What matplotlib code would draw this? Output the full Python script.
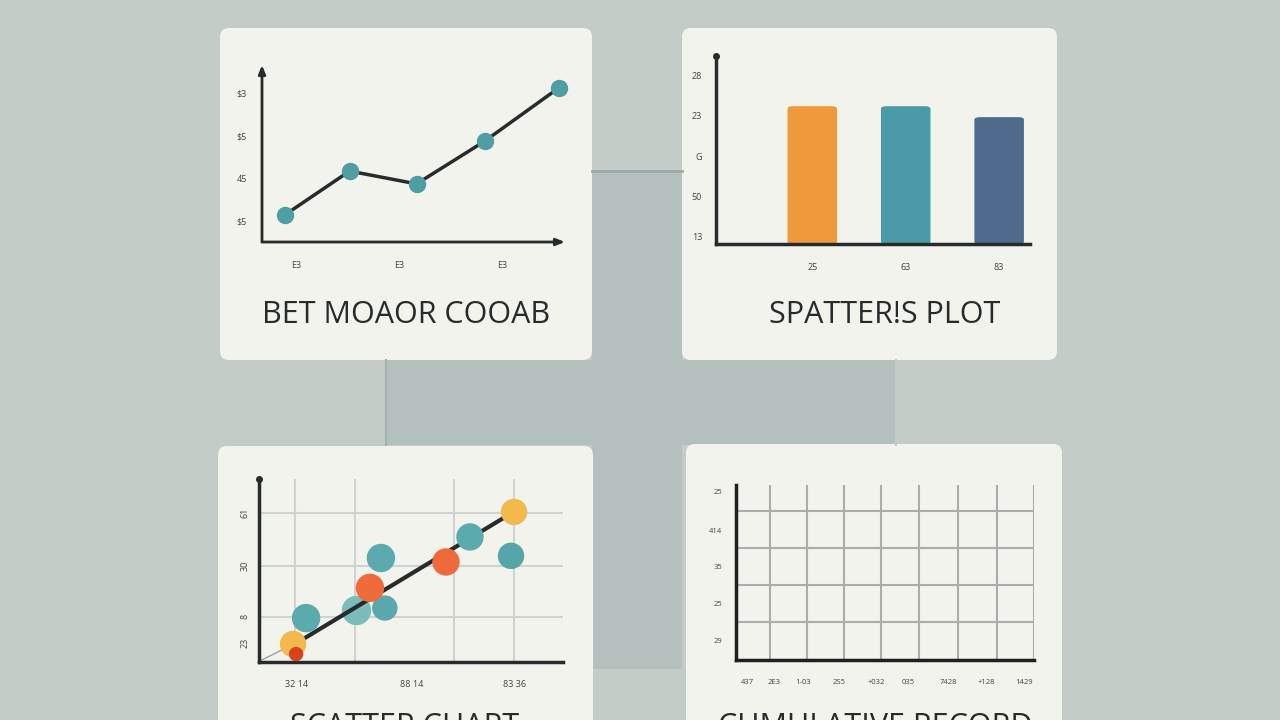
import numpy as np
import matplotlib
matplotlib.use('Agg')
import matplotlib.pyplot as plt
from matplotlib.patches import FancyBboxPatch, Rectangle

plt.rcParams['font.family'] = ['Open Sans', 'DejaVu Sans']

W, H = 1280, 720
ink = '#262b2c'
tick_col = '#3f4444'

# ---- data ----
# top left: line chart
line_x = [0.89, 1.52, 2.17, 2.83, 3.55]
line_y = [11.4, 21.7, 18.7, 28.7, 41.2]
line_yticks = [10, 20, 30, 40]
line_yticklabels = ['$5', '45', '$5', '$3']
line_xticks = [1, 2, 3]
line_xticklabels = ['E3', 'E3', 'E3']

# top right: bars
bar_names = ['25', '63', '83']
bar_values = [32.3, 32.3, 29.6]
bar_colors = ['#f0993a', '#4b9aa8', '#4e6b8e']
bar_yticks = [0, 10, 20, 30, 40]
bar_yticklabels = ['13', '50', 'G', '23', '28']

# bottom left: scatter with trend line
sc_x = [31.9, 15.5, 11.2, 12.2, 41.4, 36.5, 40.1, 61.5, 69.4, 82.9, 83.9]
sc_y = [17.0, 14.4, 5.9, 2.6, 17.7, 24.3, 34.1, 32.8, 41.0, 34.8, 49.2]
sc_d = [28, 27, 25, 13, 24, 27, 27, 26, 26, 25, 25]
sc_c = ['#7bbcbb', '#5aaaae', '#f2b94c', '#d8401f', '#5aa8ae', '#ef6c3a',
        '#5aaaae', '#ef6a3b', '#5aaaae', '#55a5aa', '#f2b94c']
trend_x = [13.5, 80.9]
trend_y = [6.9, 47.5]
sc_gx = [11.8, 31.6, 64.1, 83.9]
sc_gy = [14.8, 31.5, 48.9]
sc_yticks = [6.2, 14.8, 31.5, 48.9]
sc_yticklabels = ['23', '8', '30', '61']
sc_xticks = [12.5, 50.3, 84.2]
sc_xticklabels = ['32 14', '88 14', '83 36']

# bottom right: empty grid
gr_gx = [0.9, 1.9, 2.9, 3.9, 4.9, 5.95, 7.0, 8.0]
gr_gy = [1.1, 2.15, 3.2, 4.25]
gr_yticks = [0.57, 1.6, 2.66, 3.71, 4.8]
gr_yticklabels = ['29', '25', '35', '414', '25']
gr_xticks = [0.32, 1.02, 1.8, 2.77, 3.76, 4.62, 5.69, 6.71, 7.73]
gr_xticklabels = ['437', '2E3', '1-03', '2S5', '+032', '035', '7428', '+128', '1429']

fig = plt.figure(figsize=(12.8, 7.2), dpi=100)
fig.patch.set_facecolor('#c4ccc8')

# background layer in pixel coordinates
bg = fig.add_axes([0, 0, 1, 1])
bg.set_xlim(0, W)
bg.set_ylim(H, 0)
bg.axis('off')
bg.add_patch(Rectangle((592, 170), 90, 499, color='#b4c0bd', lw=0))
bg.add_patch(Rectangle((385, 360), 512, 85, color='#b4c0bd', lw=0))
bg.plot([592, 682], [171, 171], color='#9eaaa8', lw=2)
bg.plot([386, 386], [360, 445], color='#a7b3b0', lw=1.5)
bg.plot([896, 896], [360, 445], color='#c2cbc8', lw=1.5)

panels = [(220, 28, 592, 360), (682, 28, 1057, 360),
          (218, 446, 593, 740), (686, 444, 1062, 740)]
for l, t, r, b in panels:
    bg.add_patch(FancyBboxPatch((l, t), r - l, b - t,
                                boxstyle='round,pad=0,rounding_size=9',
                                fc='#f3f3ee', ec='none'))

bg.text(406, 315, 'BET MOAOR COOAB', ha='center', va='center', fontsize=22, color=ink)
bg.text(885, 315, 'SPATTER!S PLOT', ha='center', va='center', fontsize=22, color=ink)
# the bottom titles run off the lower edge, as in the picture
bg.text(405, 712, 'SCATTER CHART', ha='center', va='top', fontsize=22, color=ink)
bg.text(875, 712, 'CUMULATIVE RECORD', ha='center', va='top', fontsize=22, color=ink)


def px_axes(l, t, r, b):
    ax = fig.add_axes([l / W, 1 - b / H, (r - l) / W, (b - t) / H])
    ax.set_facecolor('none')
    for s in ax.spines.values():
        s.set_visible(False)
    ax.tick_params(length=0, labelsize=6.5, labelcolor=tick_col)
    return ax


def rounded_bars(ax, xs, tops, bottom, width, colors):
    # bars with softly rounded corners, drawn as patches in data space
    for x, top, c in zip(xs, tops, colors):
        ax.add_patch(FancyBboxPatch((x - width / 2, bottom), width, top - bottom,
                                    boxstyle='round,pad=0,rounding_size=0.06',
                                    mutation_aspect=10, fc=c, ec='none'))


# ---- top left ----
ax1 = px_axes(262, 65, 565, 242)
ax1.set_xlim(0.67, 3.61)
ax1.set_ylim(5.08, 46.56)
ax1.plot(line_x, line_y, color=ink, lw=2.5, zorder=2, clip_on=False)
ax1.scatter(line_x, line_y, s=(0.72 * 16) ** 2, color='#4f9ea3', zorder=3, clip_on=False)
for xy in [(0, 1), (1, 0)]:
    ax1.annotate('', xy=xy, xytext=(0, 0), xycoords='axes fraction',
                 arrowprops=dict(arrowstyle='-|>,head_length=0.5,head_width=0.2',
                                 color=ink, lw=2, shrinkA=0, shrinkB=0))
ax1.set_yticks(line_yticks, line_yticklabels)
ax1.set_xticks(line_xticks, line_xticklabels)
ax1.tick_params(axis='y', pad=11)
ax1.tick_params(axis='x', pad=14)

# ---- top right ----
ax2 = px_axes(716, 56, 1030, 244)
ax2.set_xlim(-1.03, 2.33)
ax2.set_ylim(-1.73, 44.7)
rounded_bars(ax2, range(3), bar_values, -1.73, 0.53, bar_colors)
for side in ['left', 'bottom']:
    ax2.spines[side].set_visible(True)
    ax2.spines[side].set_linewidth(2.5)
    ax2.spines[side].set_color(ink)
    ax2.spines[side].set_zorder(3)
ax2.plot([0], [1], 'o', ms=4, color=ink, transform=ax2.transAxes, clip_on=False)
ax2.set_yticks(bar_yticks, bar_yticklabels)
ax2.set_xticks(range(3), bar_names)
ax2.tick_params(axis='y', pad=10)
ax2.tick_params(axis='x', pad=14)

# ---- bottom left ----
ax3 = px_axes(259, 479, 563, 662)
ax3.set_xlim(0, 100)
ax3.set_ylim(0, 60)
for gx in sc_gx:
    ax3.axvline(gx, color='#cfd3d1', lw=1.5, zorder=0)
for gy in sc_gy:
    ax3.axhline(gy, color='#cfd3d1', lw=1.5, zorder=0)
ax3.plot([1, trend_x[0]], [0.7, trend_y[0]], color='#9a9e9d', lw=1, zorder=1)
ax3.scatter(sc_x[:1], sc_y[:1], s=(0.72 * np.array(sc_d[:1])) ** 2, c=sc_c[:1], zorder=1.5)
ax3.plot(trend_x, trend_y, color=ink, lw=3, zorder=2, solid_capstyle='round')
ax3.scatter(sc_x[1:], sc_y[1:], s=(0.72 * np.array(sc_d[1:])) ** 2, c=sc_c[1:], zorder=3,
            clip_on=False)
for side in ['left', 'bottom']:
    ax3.spines[side].set_visible(True)
    ax3.spines[side].set_linewidth(2.5)
    ax3.spines[side].set_color(ink)
ax3.plot([0], [1], 'o', ms=4, color=ink, transform=ax3.transAxes, clip_on=False)
ax3.set_yticks(sc_yticks, sc_yticklabels, rotation=90, va='center')
ax3.set_xticks(sc_xticks, sc_xticklabels)
ax3.tick_params(axis='y', pad=7)
ax3.tick_params(axis='x', pad=13)

# ---- bottom right ----
ax4 = px_axes(736, 485, 1034, 660)
ax4.set_xlim(0, 8)
ax4.set_ylim(0, 5)
for gx in gr_gx:
    ax4.axvline(gx, color='#a9adab', lw=1.5, zorder=0)
for gy in gr_gy:
    ax4.axhline(gy, color='#a9adab', lw=1.5, zorder=0)
for side in ['left', 'bottom']:
    ax4.spines[side].set_visible(True)
    ax4.spines[side].set_linewidth(2.5)
    ax4.spines[side].set_color('#1d2121')
ax4.set_yticks(gr_yticks, gr_yticklabels)
ax4.set_xticks(gr_xticks, gr_xticklabels)
ax4.tick_params(labelsize=5.5)
ax4.tick_params(axis='y', pad=10)
ax4.tick_params(axis='x', pad=14)

fig.savefig('out.png', dpi=100, facecolor=fig.get_facecolor())
